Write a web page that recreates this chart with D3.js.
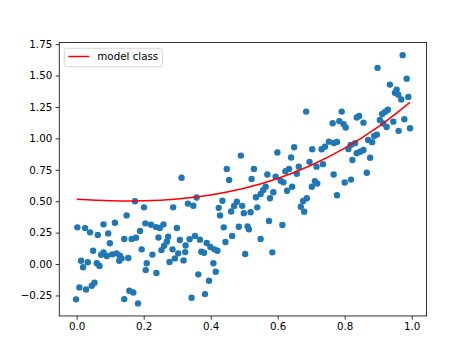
<!DOCTYPE html>
<html><head><meta charset="utf-8">
<script src="https://cdn.jsdelivr.net/npm/d3@7"></script>
<style>body{margin:0;background:#fff}svg{display:block}text{font-family:"DejaVu Sans",sans-serif}</style>
</head><body><svg id="c" width="474" height="355"></svg>
<script>
const xValues = [
0.002,0.025,0.040,0.063,0.080,0.094,0.114,0.149,0.174,0.201,0.189,0.177,0.164,0.142,0.099,0.049,0.194,0.080,0.073,0.090,0.106,0.119,0.129,0.134,0.127,0.154,0.013,0.033,0.019,0.060,0.068,0.008,0.028,0.045,0.053,-0.002,0.142,0.157,0.169,0.183,
0.205,0.222,0.237,0.248,0.259,0.299,0.288,0.332,0.348,0.358,0.424,0.435,0.428,0.439,0.444,0.244,0.273,0.269,0.261,0.253,0.286,0.308,0.325,0.324,0.303,0.293,0.277,0.319,0.337,0.353,0.368,0.388,0.372,0.380,0.399,0.411,0.420,0.408,0.415,0.395,0.363,0.383,0.343,0.226,0.209,0.206,0.238,0.313,
0.490,0.448,0.455,0.529,0.522,0.569,0.599,0.640,0.649,0.703,0.695,0.663,0.634,0.623,0.657,0.594,0.609,0.617,0.643,0.628,0.587,0.577,0.564,0.557,0.549,0.535,0.711,0.718,0.702,0.687,0.676,0.669,0.679,0.478,0.470,0.494,0.461,0.499,0.519,0.539,0.574,0.614,0.484,0.510,0.514,0.464,0.549,0.503,0.584,
0.685,0.731,0.741,0.753,0.768,0.777,0.716,0.735,0.767,0.777,0.800,0.819,0.791,0.764,0.784,0.797,0.803,0.836,0.843,0.856,0.912,0.921,0.929,0.905,0.915,0.925,0.945,0.978,0.961,0.896,0.888,0.870,0.882,0.831,0.818,0.811,0.856,0.846,0.836,0.823,0.876,0.866,0.973,0.898,0.985,0.935,0.955,0.950,0.960,0.969,0.990,0.995
];
const yValues = [
0.292,0.286,0.252,0.231,0.316,0.244,0.329,0.387,0.500,0.451,0.263,0.209,0.199,0.199,0.165,0.106,0.117,0.093,0.074,0.064,0.077,0.085,0.066,0.045,0.026,0.048,0.026,0.014,-0.026,0.006,-0.016,-0.186,-0.202,-0.173,-0.149,-0.281,-0.279,-0.212,-0.226,-0.313,
0.324,0.313,0.294,0.287,0.316,0.287,0.451,0.481,0.464,0.530,0.447,0.504,0.387,0.292,0.176,0.211,0.218,0.178,0.145,0.111,0.117,0.191,0.147,0.095,0.085,0.045,0.016,0.029,0.198,0.224,0.194,0.168,0.098,0.090,0.136,0.117,0.106,0.006,-0.061,-0.133,-0.082,-0.239,-0.268,0.075,0.006,-0.048,-0.071,0.687,
0.863,0.757,0.669,0.757,0.677,0.712,0.888,0.848,0.929,0.913,0.813,0.775,0.757,0.738,0.718,0.695,0.662,0.650,0.615,0.583,0.571,0.523,0.615,0.589,0.557,0.531,0.660,0.640,0.615,0.523,0.502,0.456,0.416,0.496,0.462,0.463,0.418,0.405,0.412,0.451,0.342,0.311,0.297,0.300,0.276,0.224,0.199,0.080,0.093,
1.213,0.914,0.934,0.974,0.963,0.972,0.775,0.795,0.712,0.547,0.649,0.672,1.213,1.120,1.137,1.113,1.087,1.166,1.178,1.125,1.194,1.212,1.228,1.146,1.118,1.091,1.133,1.153,1.060,1.030,1.019,0.987,0.970,0.961,0.947,0.915,0.908,0.894,0.881,0.828,0.846,0.727,1.662,1.561,1.475,1.428,1.388,1.362,1.348,1.310,1.330,1.080
];
const modelX = [0, 0.1, 0.2, 0.3, 0.4, 0.5, 0.6, 0.7, 0.8, 0.9, 0.995];
const modelY = [0.516, 0.504, 0.503, 0.518, 0.550, 0.603, 0.681, 0.786, 0.922, 1.092, 1.287];
const xTicks = [0.0, 0.2, 0.4, 0.6, 0.8, 1.0];
const yTicks = [-0.25, 0.00, 0.25, 0.50, 0.75, 1.00, 1.25, 1.50, 1.75];
const legendLabel = "model class";

const svg = d3.select("#c");
const L = 59.25, R = 426.6, T = 42.6, B = 315.95;
const x = d3.scaleLinear().domain([-0.0521, 1.0445]).range([L, R]);
const y = d3.scaleLinear().domain([-0.413, 1.762]).range([B, T]);

const pts = xValues.map((v, i) => [v, yValues[i]]);
svg.append("g").selectAll("circle").data(pts).join("circle")
  .attr("cx", d => x(d[0])).attr("cy", d => y(d[1])).attr("r", 3.2)
  .attr("fill", "#1f77b4");

const line = d3.line().x(d => x(d[0])).y(d => y(d[1])).curve(d3.curveCatmullRom);
svg.append("path").datum(modelX.map((v, i) => [v, modelY[i]]))
  .attr("d", line).attr("fill", "none").attr("stroke", "#ff0000").attr("stroke-width", 1.5);

const fmt = d => (d < 0 ? "\u2212" : "") + Math.abs(d).toFixed(1);
const fmtY = d => (d < 0 ? "\u2212" : "") + Math.abs(d).toFixed(2);
const xAxis = svg.append("g").attr("transform", `translate(0,${B})`)
  .call(d3.axisBottom(x).tickValues(xTicks).tickFormat(fmt).tickSize(3.6).tickPadding(3.4));
const yAxis = svg.append("g").attr("transform", `translate(${L},0)`)
  .call(d3.axisLeft(y).tickValues(yTicks).tickFormat(fmtY).tickSize(3.6).tickPadding(3.4));
[xAxis, yAxis].forEach(g => {
  g.select(".domain").remove();
  g.selectAll(".tick line").attr("stroke", "#000").attr("stroke-width", 0.8);
  g.selectAll(".tick text").attr("fill", "#000").style("font-size", "10.3px").style("font-family", "DejaVu Sans");
});
svg.append("rect").attr("x", L).attr("y", T).attr("width", R - L).attr("height", B - T)
  .attr("fill", "none").attr("stroke", "#000").attr("stroke-width", 0.8);

const lg = svg.append("g");
lg.append("rect").attr("x", 64.3).attr("y", 48.3).attr("width", 98).attr("height", 18.4)
  .attr("rx", 2).attr("fill", "#fff").attr("fill-opacity", 0.8).attr("stroke", "#cccccc").attr("stroke-width", 0.8);
lg.append("line").attr("x1", 68.3).attr("x2", 89.3).attr("y1", 56.5).attr("y2", 56.5)
  .attr("stroke", "#ff0000").attr("stroke-width", 1.5);
lg.append("text").attr("x", 97.3).attr("y", 56.5).attr("dy", "0.35em")
  .style("font-size", "10.3px").attr("fill", "#000").text(legendLabel);
</script></body></html>
